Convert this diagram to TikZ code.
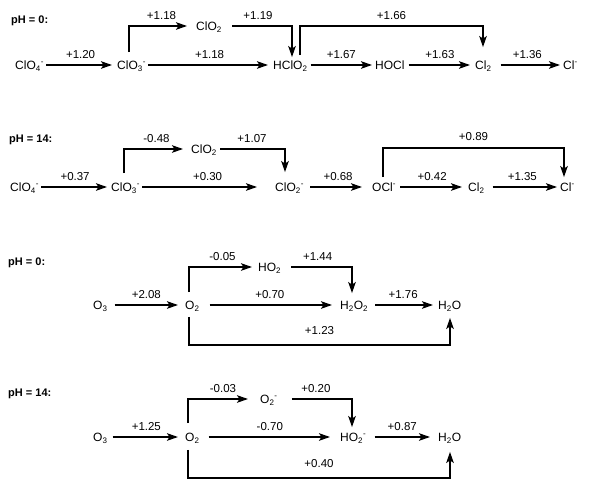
\documentclass[tikz,border=0pt]{standalone}
\usepackage{fontspec}
\setmainfont{Liberation Sans}
\usetikzlibrary{arrows.meta,calc}
\begin{document}
\begin{tikzpicture}[x=1pt,y=-1pt,
  sp/.style={anchor=west,inner xsep=2pt,inner ysep=3pt,text height=9pt,text depth=0.4pt,font=\fontsize{12}{14}\selectfont},
  arr/.style={line width=1.8pt,-{Stealth[length=11pt,width=7.5pt,inset=2.5pt]}},
  lab/.style={font=\fontsize{11.5}{13}\selectfont,inner sep=0pt,text depth=0pt,above=6pt},
  ph/.style={anchor=base west,font=\bfseries\fontsize{11}{13}\selectfont,inner sep=0pt}]
\useasboundingbox (0,0) rectangle (589,487);
% panel 1
\node[ph] (t1) at (11,24) {pH = 0:};
\node[sp] (a1) at (13,65) {ClO\textsubscript{4}\textsuperscript{-}};
\node[sp] (b1) at (115,65) {ClO\textsubscript{3}\textsuperscript{-}};
\node[sp] (c1) at (194,26) {ClO\textsubscript{2}};
\node[sp] (d1) at (271,65) {HClO\textsubscript{2}};
\node[sp] (e1) at (373,65) {HOCl};
\node[sp] (f1) at (473,65) {Cl\textsubscript{2}};
\node[sp] (g1) at (561,65) {Cl\textsuperscript{-}};
\draw[arr,shorten >=3pt] (a1) -- (b1) node[lab,midway]{+1.20};
\draw[arr,shorten >=3pt] (b1) -- (d1) node[lab,midway]{+1.18};
\draw[arr,shorten <=5pt,shorten >=7pt] ([xshift=14pt]b1.north west) |- (c1.west) node[lab,pos=0.75]{+1.18};
\draw[arr,shorten <=8pt] (c1.east) -| ([xshift=21pt]d1.north west) node[lab,pos=0.25]{+1.19};
\draw[arr,shorten <=2pt,shorten >=10pt] ([xshift=29pt]d1.north west) -- ++(0,-31) -| ([xshift=10pt]f1.north west) node[lab,pos=0.25]{+1.66};
\draw[arr,shorten <=1pt,shorten >=1pt] (d1) -- (e1) node[lab,midway]{+1.67};
\draw[arr,shorten <=2pt,shorten >=3pt] (e1) -- (f1) node[lab,midway]{+1.63};
\draw[arr,shorten <=7pt,shorten >=1pt] (f1) -- (g1) node[lab,midway]{+1.36};
% panel 2
\node[ph] (t2) at (9,142) {pH = 14:};
\node[sp] (a2) at (8,187) {ClO\textsubscript{4}\textsuperscript{-}};
\node[sp] (b2) at (109,187) {ClO\textsubscript{3}\textsuperscript{-}};
\node[sp] (c2) at (189,149) {ClO\textsubscript{2}};
\node[sp] (d2) at (273,187) {ClO\textsubscript{2}\textsuperscript{-}};
\node[sp] (e2) at (370,187) {OCl\textsuperscript{-}};
\node[sp] (f2) at (466,187) {Cl\textsubscript{2}};
\node[sp] (g2) at (558,187) {Cl\textsuperscript{-}};
\draw[arr,shorten >=2pt] (a2) -- (b2) node[lab,midway]{+0.37};
\draw[arr,shorten >=16pt] (b2) -- (d2) node[lab,midway]{+0.30};
\draw[arr,shorten <=6pt,shorten >=6pt] ([xshift=15pt]b2.north west) |- (c2.west) node[lab,pos=0.75]{-0.48};
\draw[arr,shorten <=1pt,shorten >=7pt] (c2.east) -| ([xshift=12pt]d2.north west) node[lab,pos=0.25]{+1.07};
\draw[arr,shorten <=4pt,shorten >=8pt] (d2) -- (e2) node[lab,midway]{+0.68};
\draw[arr,shorten <=2pt,shorten >=2pt] ([xshift=13pt]e2.north west) -- ++(0,-31.3) -| ([xshift=6pt]g2.north west) node[lab,pos=0.25]{+0.89};
\draw[arr,shorten <=2pt,shorten >=4pt] (e2) -- (f2) node[lab,midway]{+0.42};
\draw[arr,shorten <=6pt,shorten >=1pt] (f2) -- (g2) node[lab,midway]{+1.35};
% panel 3
\node[ph] (t3) at (8,265) {pH = 0:};
\node[sp] (a3) at (91,305) {O\textsubscript{3}};
\node[sp] (b3) at (183,305) {O\textsubscript{2}};
\node[sp] (c3) at (256,267) {HO\textsubscript{2}};
\node[sp] (d3) at (338,305) {H\textsubscript{2}O\textsubscript{2}};
\node[sp] (e3) at (436,305) {H\textsubscript{2}O};
\draw[arr,shorten <=5pt,shorten >=5pt] (a3) -- (b3) node[lab,midway]{+2.08};
\draw[arr,shorten <=8pt,shorten >=6pt] (b3) -- (d3) node[lab,midway]{+0.70};
\draw[arr,shorten <=5pt,shorten >=4pt] ([xshift=6pt]b3.north west) |- (c3.west) node[lab,pos=0.75]{-0.05};
\draw[arr,shorten <=8pt,shorten >=4pt] (c3.east) -| ([xshift=14pt]d3.north west) node[lab,pos=0.25]{+1.44};
\draw[arr,shorten <=5pt,shorten >=3pt] (d3) -- (e3) node[lab,midway]{+1.76};
\draw[arr,shorten <=4pt,shorten >=5pt] ([xshift=6pt]b3.south west) -- ++(0,32.3) -| ([xshift=14pt]e3.south west) node[lab,above=4pt,pos=0.25]{+1.23};
% panel 4
\node[ph] (t4) at (8,396) {pH = 14:};
\node[sp] (a4) at (91,437) {O\textsubscript{3}};
\node[sp] (b4) at (183,437) {O\textsubscript{2}};
\node[sp] (c4) at (258,399) {O\textsubscript{2}\textsuperscript{-}};
\node[sp] (d4) at (338,437) {HO\textsubscript{2}\textsuperscript{-}};
\node[sp] (e4) at (436,437) {H\textsubscript{2}O};
\draw[arr,shorten <=3pt,shorten >=5pt] (a4) -- (b4) node[lab,midway]{+1.25};
\draw[arr,shorten <=7pt,shorten >=8pt] (b4) -- (d4) node[lab,midway]{-0.70};
\draw[arr,shorten <=6pt,shorten >=10pt] ([xshift=5pt]b4.north west) |- (c4.west) node[lab,pos=0.75]{-0.03};
\draw[arr,shorten <=12pt,shorten >=2pt] (c4.east) -| ([xshift=14pt]d4.north west) node[lab,pos=0.25]{+0.20};
\draw[arr,shorten <=6pt,shorten >=6pt] (d4) -- (e4) node[lab,midway]{+0.87};
\draw[arr,shorten <=5pt,shorten >=7pt] ([xshift=5pt]b4.south west) -- ++(0,33.3) -| ([xshift=14pt]e4.south west) node[lab,above=4pt,pos=0.25]{+0.40};
\end{tikzpicture}
\end{document}
